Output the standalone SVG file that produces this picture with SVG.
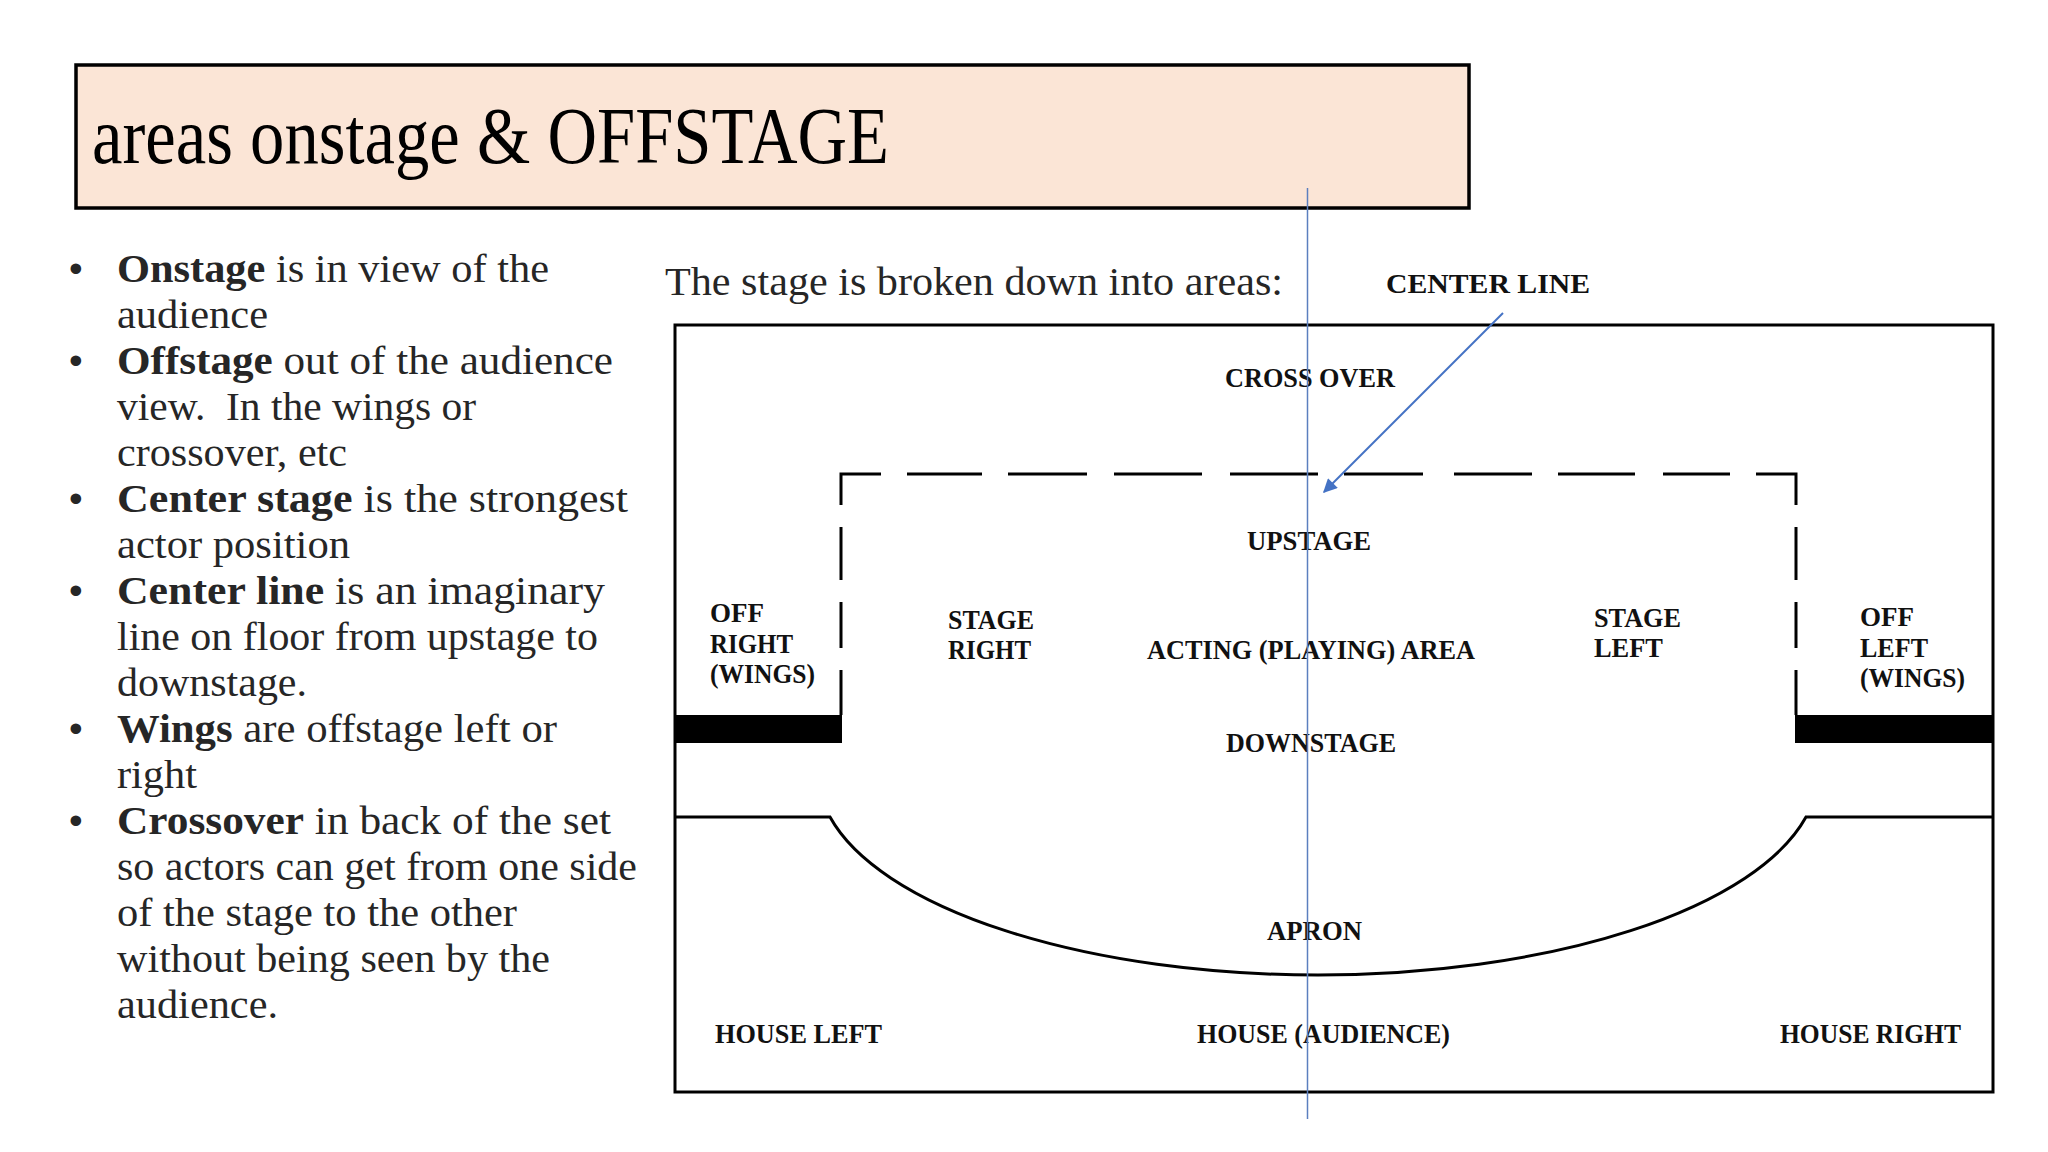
<svg xmlns="http://www.w3.org/2000/svg" width="2048" height="1152" viewBox="0 0 2048 1152">
<style>
.body{font-family:"Liberation Serif","Times New Roman",serif;font-size:39px;fill:#262626}
.b{font-weight:bold}
.lbl{font-family:"Liberation Serif","Times New Roman",serif;font-size:27px;font-weight:bold;fill:#111}
.bul{font-family:"Liberation Sans",Arial,sans-serif;font-size:39px;fill:#262626}
.dash{stroke:#000;stroke-width:3;fill:none}
</style>
<defs>
<marker id="ah" viewBox="0 0 10 10" refX="9" refY="5" markerWidth="7.5" markerHeight="7" orient="auto" markerUnits="strokeWidth">
<path d="M0,0 L10,5 L0,10 z" fill="#4472C4"/>
</marker>
</defs>
<rect width="2048" height="1152" fill="#fff"/>

<g id="title">
<rect x="76" y="65" width="1393" height="143" fill="#FBE5D6" stroke="#000" stroke-width="3.5"/>
<text x="92" y="163" font-family="'Liberation Serif','Times New Roman',serif" font-size="80" fill="#000" textLength="797" lengthAdjust="spacingAndGlyphs">areas onstage &amp; OFFSTAGE</text>
</g>

<g id="bullets" class="body">
<text class="bul" x="69" y="282">•</text>
<text class="bul" x="69" y="374">•</text>
<text class="bul" x="69" y="512">•</text>
<text class="bul" x="69" y="604">•</text>
<text class="bul" x="69" y="742">•</text>
<text class="bul" x="69" y="834">•</text>
<text x="117" y="282" textLength="432" lengthAdjust="spacingAndGlyphs"><tspan class="b">Onstage</tspan> is in view of the</text>
<text x="117" y="328" textLength="151" lengthAdjust="spacingAndGlyphs">audience</text>
<text x="117" y="374" textLength="496" lengthAdjust="spacingAndGlyphs"><tspan class="b">Offstage</tspan> out of the audience</text>
<text x="117" y="420" textLength="359" lengthAdjust="spacingAndGlyphs" xml:space="preserve">view.  In the wings or</text>
<text x="117" y="466" textLength="230" lengthAdjust="spacingAndGlyphs">crossover, etc</text>
<text x="117" y="512" textLength="511" lengthAdjust="spacingAndGlyphs"><tspan class="b">Center stage</tspan> is the strongest</text>
<text x="117" y="558" textLength="233" lengthAdjust="spacingAndGlyphs">actor position</text>
<text x="117" y="604" textLength="488" lengthAdjust="spacingAndGlyphs"><tspan class="b">Center line</tspan> is an imaginary</text>
<text x="117" y="650" textLength="481" lengthAdjust="spacingAndGlyphs">line on floor from upstage to</text>
<text x="117" y="696" textLength="190" lengthAdjust="spacingAndGlyphs">downstage.</text>
<text x="117" y="742" textLength="440" lengthAdjust="spacingAndGlyphs"><tspan class="b">Wings</tspan> are offstage left or</text>
<text x="117" y="788" textLength="80" lengthAdjust="spacingAndGlyphs">right</text>
<text x="117" y="834" textLength="494" lengthAdjust="spacingAndGlyphs"><tspan class="b">Crossover</tspan> in back of the set</text>
<text x="117" y="880" textLength="520" lengthAdjust="spacingAndGlyphs">so actors can get from one side</text>
<text x="117" y="926" textLength="400" lengthAdjust="spacingAndGlyphs">of the stage to the other</text>
<text x="117" y="972" textLength="433" lengthAdjust="spacingAndGlyphs">without being seen by the</text>
<text x="117" y="1018" textLength="161" lengthAdjust="spacingAndGlyphs">audience.</text>
</g>

<g id="caption">
<text class="body" x="665" y="295" textLength="618" lengthAdjust="spacingAndGlyphs">The stage is broken down into areas:</text>
</g>

<g id="stage-plan">
<rect x="675" y="325" width="1318" height="767" fill="none" stroke="#000" stroke-width="3"/>
<path class="dash" d="M841,505 L841,474 L881,474"/>
<path class="dash" d="M907,474 H982 M1008,474 H1087 M1114,474 H1202 M1230,474 H1318 M1344,474 H1423 M1454,474 H1532 M1558,474 H1635 M1663,474 H1730"/>
<path class="dash" d="M1756,474 L1796,474 L1796,505"/>
<path class="dash" d="M841,527 V580 M841,602 V648 M841,670 V715 M1796,527 V580 M1796,602 V648 M1796,670 V715"/>
<rect x="675" y="715" width="167" height="28" fill="#000"/>
<rect x="1795" y="715" width="198" height="28" fill="#000"/>
<path d="M675,817 H830 A500,202 0 0 0 1806,817 H1993" fill="none" stroke="#000" stroke-width="3"/>
</g>

<g id="label-center-line"><text class="lbl" x="1386" y="293" font-size="31" textLength="204" lengthAdjust="spacingAndGlyphs">CENTER LINE</text></g>
<g id="label-cross-over"><text class="lbl" x="1225" y="387" textLength="170" lengthAdjust="spacingAndGlyphs">CROSS OVER</text></g>
<g id="label-upstage"><text class="lbl" x="1247" y="550" textLength="124" lengthAdjust="spacingAndGlyphs">UPSTAGE</text></g>
<g id="label-off-right">
<text class="lbl" x="710" y="622" textLength="54" lengthAdjust="spacingAndGlyphs">OFF</text>
<text class="lbl" x="710" y="653" textLength="83" lengthAdjust="spacingAndGlyphs">RIGHT</text>
<text class="lbl" x="710" y="683" textLength="105" lengthAdjust="spacingAndGlyphs">(WINGS)</text>
</g>
<g id="label-stage-right">
<text class="lbl" x="948" y="629" textLength="86" lengthAdjust="spacingAndGlyphs">STAGE</text>
<text class="lbl" x="948" y="659" textLength="83" lengthAdjust="spacingAndGlyphs">RIGHT</text>
</g>
<g id="label-acting-area"><text class="lbl" x="1147" y="659" textLength="328" lengthAdjust="spacingAndGlyphs">ACTING (PLAYING) AREA</text></g>
<g id="label-stage-left">
<text class="lbl" x="1594" y="627" textLength="87" lengthAdjust="spacingAndGlyphs">STAGE</text>
<text class="lbl" x="1594" y="657" textLength="69" lengthAdjust="spacingAndGlyphs">LEFT</text>
</g>
<g id="label-off-left">
<text class="lbl" x="1860" y="626" textLength="54" lengthAdjust="spacingAndGlyphs">OFF</text>
<text class="lbl" x="1860" y="657" textLength="68" lengthAdjust="spacingAndGlyphs">LEFT</text>
<text class="lbl" x="1860" y="687" textLength="105" lengthAdjust="spacingAndGlyphs">(WINGS)</text>
</g>
<g id="label-downstage"><text class="lbl" x="1226" y="752" textLength="170" lengthAdjust="spacingAndGlyphs">DOWNSTAGE</text></g>
<g id="label-apron"><text class="lbl" x="1267" y="940" textLength="95" lengthAdjust="spacingAndGlyphs">APRON</text></g>
<g id="label-house-left"><text class="lbl" x="715" y="1043" textLength="167" lengthAdjust="spacingAndGlyphs">HOUSE LEFT</text></g>
<g id="label-house-audience"><text class="lbl" x="1197" y="1043" textLength="253" lengthAdjust="spacingAndGlyphs">HOUSE (AUDIENCE)</text></g>
<g id="label-house-right"><text class="lbl" x="1780" y="1043" textLength="181" lengthAdjust="spacingAndGlyphs">HOUSE RIGHT</text></g>

<g id="connectors">
<line x1="1307.5" y1="188" x2="1307.5" y2="1119" stroke="#5B7FBF" stroke-width="1.5"/>
<line x1="1503" y1="313" x2="1324" y2="492" stroke="#4472C4" stroke-width="2" marker-end="url(#ah)"/>
</g>
</svg>
